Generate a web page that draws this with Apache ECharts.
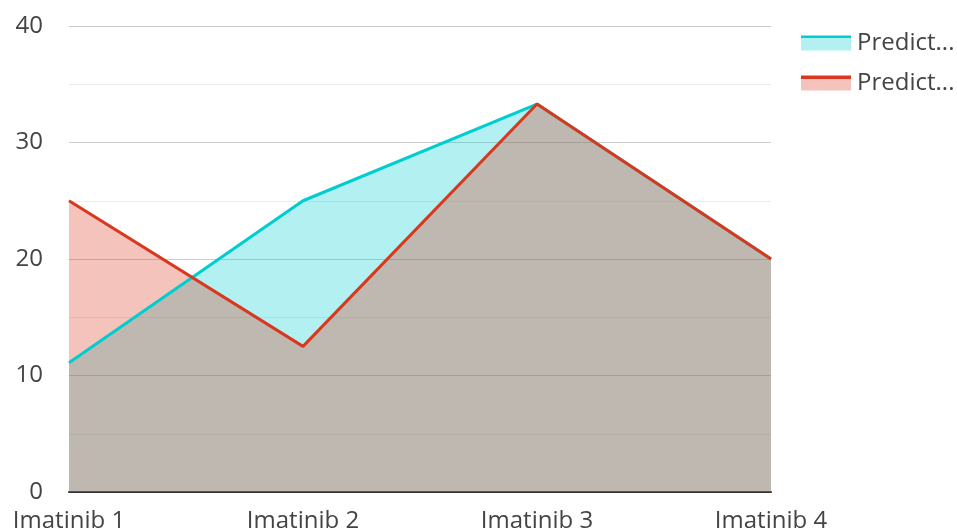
<!DOCTYPE html>
<html>
<head>
<meta charset="utf-8">
<script src="https://cdn.jsdelivr.net/npm/echarts@6/dist/echarts.min.js"></script>
<style>
  html, body { margin: 0; padding: 0; background: #fff; }
  #chartDiv { width: 957px; height: 531px; }
</style>
</head>
<body>
<div id="chartDiv"></div>
<script>
var categories = ['Imatinib 1', 'Imatinib 2', 'Imatinib 3', 'Imatinib 4'];
var seriesNames = ['Predicted 1', 'Predicted 2'];
var cyanValues = [11.1, 25, 33.3, 20];
var redValues = [25, 12.5, 33.3, 20];
var yTicks = [0, 10, 20, 30, 40];

var cyan = '#00cdcf';
var red = '#d9381e';
var font = 'Open Sans';

var myChart = echarts.init(document.getElementById('chartDiv'));

// legend icon: line on top, pale area under it
var legendIcon = function(c){
    return {
        type: 'linear', x: 0, y: 0, x2: 0, y2: 1,
        colorStops: [
            {offset: 0, color: c},
            {offset: 0.2, color: c},
            {offset: 0.2, color: echarts.color.modifyAlpha(c, 0.3)},
            {offset: 1, color: echarts.color.modifyAlpha(c, 0.3)}
        ]
    }
}

var areaSeries = function(name, data, c){
    return {
        name: name,
        type: 'line',
        data: data,
        symbol: 'none',
        lineStyle: {width: 0},
        areaStyle: {color: c, opacity: 0.3},
        z: 2
    }
}
var lineSeries = function(name, data, c){
    return {
        name: name,
        type: 'line',
        data: data,
        symbol: 'none',
        lineStyle: {width: 3, color: c},
        itemStyle: {color: c},
        z: 3
    }
}

var option = {
    animation: false,
    backgroundColor: '#fff',
    grid: {left: 69, right: 186, top: 26, bottom: 39, containLabel: false, outerBoundsMode: 'none'},
    legend: {
        orient: 'vertical',
        left: 796,
        top: 26,
        itemWidth: 50,
        itemHeight: 15,
        itemGap: 16,
        textStyle: {fontFamily: font, fontSize: 24, color: '#444', padding: [0, 0, 0, 1]},
        formatter: function(){ return 'Predict...' },
        data: [
            {name: seriesNames[0], icon: 'rect', itemStyle: {color: legendIcon(cyan), borderWidth: 0}},
            {name: seriesNames[1], icon: 'rect', itemStyle: {color: legendIcon(red), borderWidth: 0}}
        ]
    },
    xAxis: {
        type: 'category',
        data: categories,
        boundaryGap: false,
        axisLine: {lineStyle: {color: '#333', width: 2}},
        axisTick: {show: false},
        axisLabel: {fontFamily: font, fontSize: 24, color: '#444', margin: 17}
    },
    yAxis: {
        type: 'value',
        min: yTicks[0],
        max: yTicks[yTicks.length - 1],
        interval: 10,
        axisLine: {show: false},
        axisTick: {show: false},
        axisLabel: {fontFamily: font, fontSize: 24, color: '#444', margin: 26},
        splitLine: {lineStyle: {color: '#cccccc', width: 1}},
        minorTick: {show: false, splitNumber: 2},
        minorSplitLine: {show: true, lineStyle: {color: '#ebebeb', width: 1}}
    },
    series: [
        areaSeries(seriesNames[0], cyanValues, cyan),
        areaSeries(seriesNames[1], redValues, red),
        lineSeries(seriesNames[0], cyanValues, cyan),
        lineSeries(seriesNames[1], redValues, red)
    ]
};

myChart.setOption(option);
</script>
</body>
</html>
